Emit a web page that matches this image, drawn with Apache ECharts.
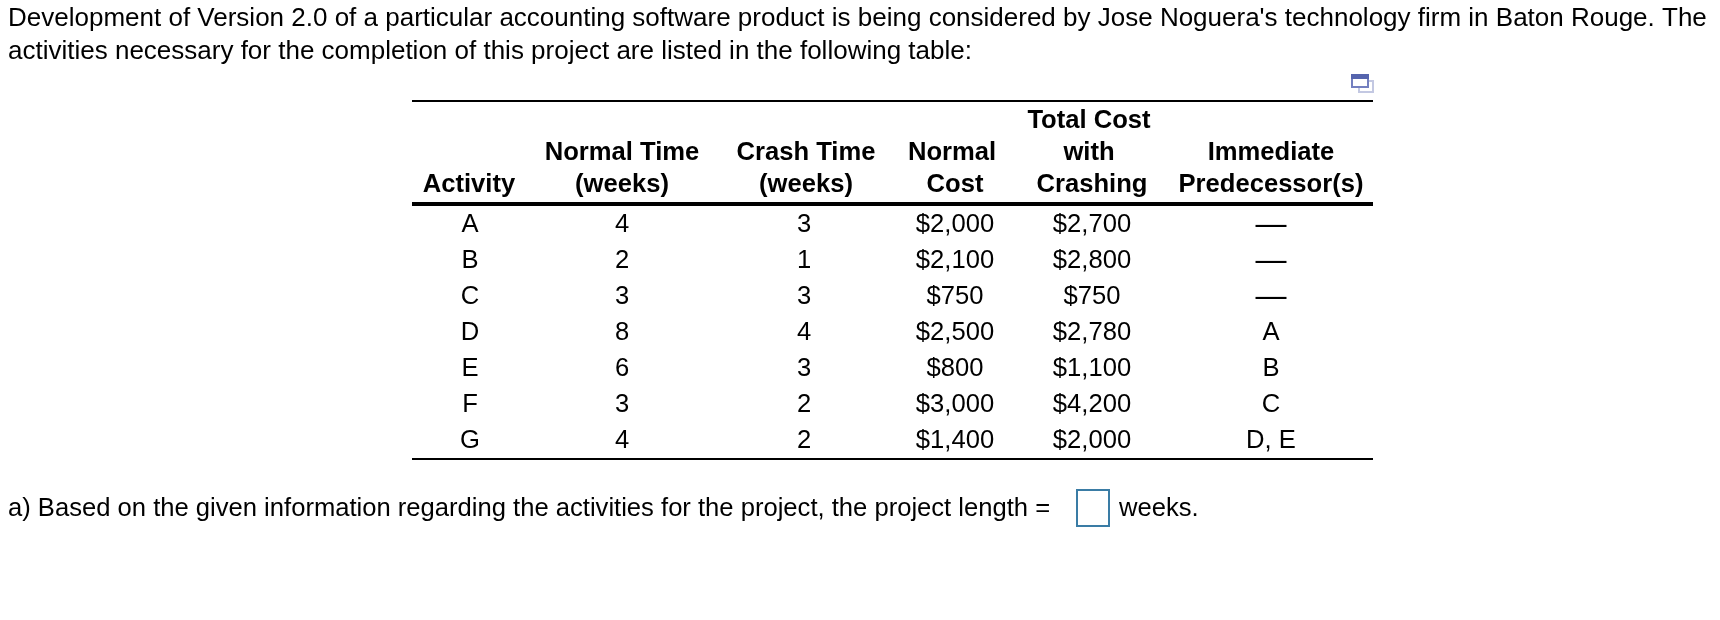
<!DOCTYPE html>
<html>
<head>
<meta charset="utf-8">
<style>html,body{margin:0;padding:0;background:#fff}#main{width:1720px;height:620px}</style>
<script src="https://cdn.jsdelivr.net/npm/echarts@6/dist/echarts.min.js"></script>
</head>
<body>
<div id="main"></div>
<script>
var introLines = [
	"Development of Version 2.0 of a particular accounting software product is being considered by Jose Noguera's technology firm in Baton Rouge. The",
	"activities necessary for the completion of this project are listed in the following table:"
];
var questionText = "a) Based on the given information regarding the activities for the project, the project length =";
var answerUnit = "weeks.";

var headerRows = ["line1", "line2", "line3"];
var headerActivity = ["", "", "Activity"];
var headerNormalTime = ["", "Normal Time", "(weeks)"];
var headerCrashTime = ["", "Crash Time", "(weeks)"];
var headerNormalCost = ["", "Normal", ""];
var headerNormalCostLast = ["", "", "Cost"];
var headerCrashCost = ["Total Cost", "with", ""];
var headerCrashCostLast = ["", "", "Crashing"];
var headerPredecessor = ["", "Immediate", "Predecessor(s)"];

var activities = ["A", "B", "C", "D", "E", "F", "G"];
var normalTime = [4, 2, 3, 8, 6, 3, 4];
var crashTime = [3, 1, 3, 4, 3, 2, 2];
var normalCost = [2000, 2100, 750, 2500, 800, 3000, 1400];
var crashCost = [2700, 2800, 750, 2780, 1100, 4200, 2000];
var predecessors = ["—", "—", "—", "A", "B", "C", "D, E"];

var FONT = '"Liberation Sans", Arial, sans-serif';
var FONT_SIZE = 25.6;
var DASH_SIZE = 31;

function money(v) {
	return "$" + String(v).replace(/\B(?=(\d{3})+$)/g, ",");
}

// one invisible scatter per column, the label is the cell
function column(gridIdx, x, rows, texts, bold) {
	return {
		type: 'scatter',
		xAxisIndex: gridIdx,
		yAxisIndex: gridIdx,
		symbolSize: 1,
		silent: true,
		itemStyle: {color: 'transparent'},
		data: rows.map(function(r, i) {
			var s = String(texts[i]);
			return {
				value: [x, r],
				label: {
					show: true,
					formatter: s,
					position: 'inside',
					align: 'center',
					verticalAlign: 'middle',
					color: '#000000',
					opacity: 1,
					textBorderWidth: 0,
					fontFamily: FONT,
					fontSize: s === "—" ? DASH_SIZE : FONT_SIZE,
					fontWeight: bold ? 'bold' : 'normal'
				}
			};
		})
	};
}

function text(x, y, s, size) {
	return {type: 'text', x: x, y: y, style: {text: s, fill: '#000', font: size + 'px ' + FONT, textVerticalAlign: 'middle'}};
}

function rule(y, h) {
	return {type: 'rect', shape: {x: 412, y: y, width: 961, height: h}, style: {fill: '#000'}};
}

var graphics = [
	text(8, 19, introLines[0], 26),
	text(8, 52, introLines[1], 26),
	text(8, 509, questionText, FONT_SIZE),
	text(1119, 509, answerUnit, FONT_SIZE),
	rule(100, 2), rule(202, 4), rule(458, 2),
	{type: 'rect', shape: {x: 1077, y: 490, width: 32, height: 36}, style: {fill: '#fff', stroke: '#3a7ca5', lineWidth: 2}},
	{type: 'rect', shape: {x: 1359, y: 81, width: 14, height: 11}, style: {fill: '#fff', stroke: '#c3c8e2', lineWidth: 2}},
	{type: 'rect', shape: {x: 1352, y: 75, width: 16, height: 12}, style: {fill: '#fff', stroke: '#7480c0', lineWidth: 2}},
	{type: 'rect', shape: {x: 1351, y: 74, width: 18, height: 5}, style: {fill: '#5564ad'}}
];

function xAxisHidden(i) {
	return {type: 'value', gridIndex: i, min: 0, max: 1720, show: false};
}
function yAxisHidden(i, rows) {
	return {type: 'category', gridIndex: i, data: rows, inverse: true, show: false};
}

var option = {
	backgroundColor: '#fff',
	animation: false,
	grid: [
		{left: 0, right: 0, top: 105, height: 96},
		{left: 0, right: 0, top: 207, height: 252}
	],
	xAxis: [xAxisHidden(0), xAxisHidden(1)],
	yAxis: [yAxisHidden(0, headerRows), yAxisHidden(1, activities)],
	series: [
		column(0, 469, headerRows, headerActivity, true),
		column(0, 622, headerRows, headerNormalTime, true),
		column(0, 806, headerRows, headerCrashTime, true),
		column(0, 952, headerRows, headerNormalCost, true),
		column(0, 955, headerRows, headerNormalCostLast, true),
		column(0, 1089, headerRows, headerCrashCost, true),
		column(0, 1092, headerRows, headerCrashCostLast, true),
		column(0, 1271, headerRows, headerPredecessor, true),
		column(1, 470, activities, activities),
		column(1, 622, activities, normalTime),
		column(1, 804, activities, crashTime),
		column(1, 955, activities, normalCost.map(money)),
		column(1, 1092, activities, crashCost.map(money)),
		column(1, 1271, activities, predecessors)
	],
	graphic: graphics
};

var chart = echarts.init(document.getElementById('main'));
chart.setOption(option);
</script>
</body>
</html>
